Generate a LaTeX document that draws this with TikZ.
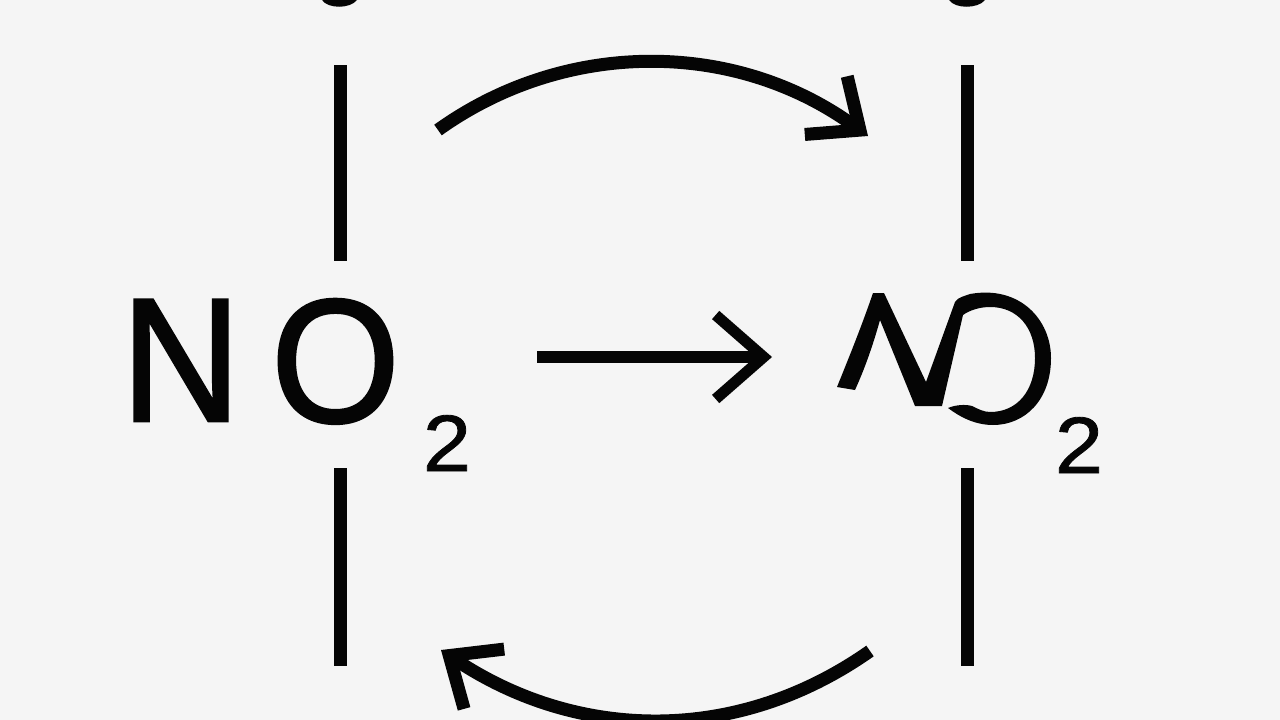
\documentclass[tikz,border=0pt]{standalone}
\usepackage{fontspec}
\setmainfont{Liberation Sans}
\newfontfamily\bigface[FakeBold=1.6,FakeStretch=0.94]{Liberation Sans}
\newfontfamily\subface[FakeBold=1.0,FakeStretch=1.08]{Liberation Sans}
\usetikzlibrary{arrows.meta}
\definecolor{bgc}{HTML}{F5F5F5}
\definecolor{ink}{HTML}{050505}
\tikzset{
  bond/.style={draw=ink,line width=13pt},
  big/.style={inner sep=0pt,anchor=base,text=ink,font=\bigface\fontsize{176}{176}\selectfont},
  sub/.style={inner sep=0pt,anchor=base,text=ink,font=\subface\fontsize{80}{80}\selectfont},
  midarrow/.style={draw=ink,line width=12pt,-{Straight Barb[length=48pt,width=84pt,line width=11pt]}},
  curvearrow/.style={draw=ink,line width=13pt,-{Straight Barb[length=42pt,width=72pt,line width=13pt]}},
  glyph/.style={fill=ink,draw=none}
}
\begin{document}
\begin{tikzpicture}[x=1pt,y=-1pt]
\useasboundingbox (0,0) rectangle (1280,720);
\fill[bgc] (0,0) rectangle (1280,720);
% cut-off atoms at the top edge
\fill[ink] (322,0) .. controls (328,9) and (350,9) .. (357,0) -- cycle;
\fill[ink] (949,0) .. controls (955,9) and (978,9) .. (985,0) -- cycle;
% left formula
\node[big] (n1) at (181,421) {N};
\node[big] (o1) at (335.5,422) {O};
\node[sub] (s1) at (447,471) {2};
% right formula: distorted letters
\fill[glyph] (837,387) .. controls (850,355) and (862,325) .. (873,293) -- (884,293) -- (926,382) -- (955,302)
  .. controls (958,297) and (965,296) .. (970,294)
  .. controls (1020,285) and (1051,320) .. (1051,358)
  .. controls (1051,400) and (1025,425) .. (993,425)
  .. controls (975,425) and (960,417) .. (948,408)
  .. controls (955,405) and (965,404) .. (972,406)
  .. controls (978,409) and (984,412) .. (990,412)
  .. controls (1018,412) and (1035,390) .. (1035,358)
  .. controls (1035,328) and (1018,307) .. (990,307)
  .. controls (980,307) and (970,310) .. (963,315)
  -- (942,406) -- (915,406) -- (880,320)
  .. controls (873,345) and (865,368) .. (855,390) -- cycle;
\node[sub] (s2) at (1079,473) {2};
% vertical bonds
\coordinate (a1) at (340,65); \coordinate (a2) at (340,261);
\coordinate (a3) at (340,468); \coordinate (a4) at (340,666);
\coordinate (b1) at (967,65); \coordinate (b2) at (967,261);
\coordinate (b3) at (967,468); \coordinate (b4) at (967,666);
\draw[bond] (a1) -- (a2);
\draw[bond] (a3) -- (a4);
\draw[bond] (b1) -- (b2);
\draw[bond] (b3) -- (b4);
% reaction arrow
\coordinate (m1) at (537,357); \coordinate (m2) at (772,357);
\draw[midarrow] (m1) -- (m2);
% curved arrows
\coordinate (t1) at (438,130); \coordinate (t2) at (868,136);
\coordinate (u1) at (870,651); \coordinate (u2) at (441,650);
\draw[curvearrow] (t1) .. controls (565,39) and (735,39) .. (t2);
\draw[curvearrow] (u1) .. controls (735,746) and (575,740) .. (u2);
\end{tikzpicture}
\end{document}
